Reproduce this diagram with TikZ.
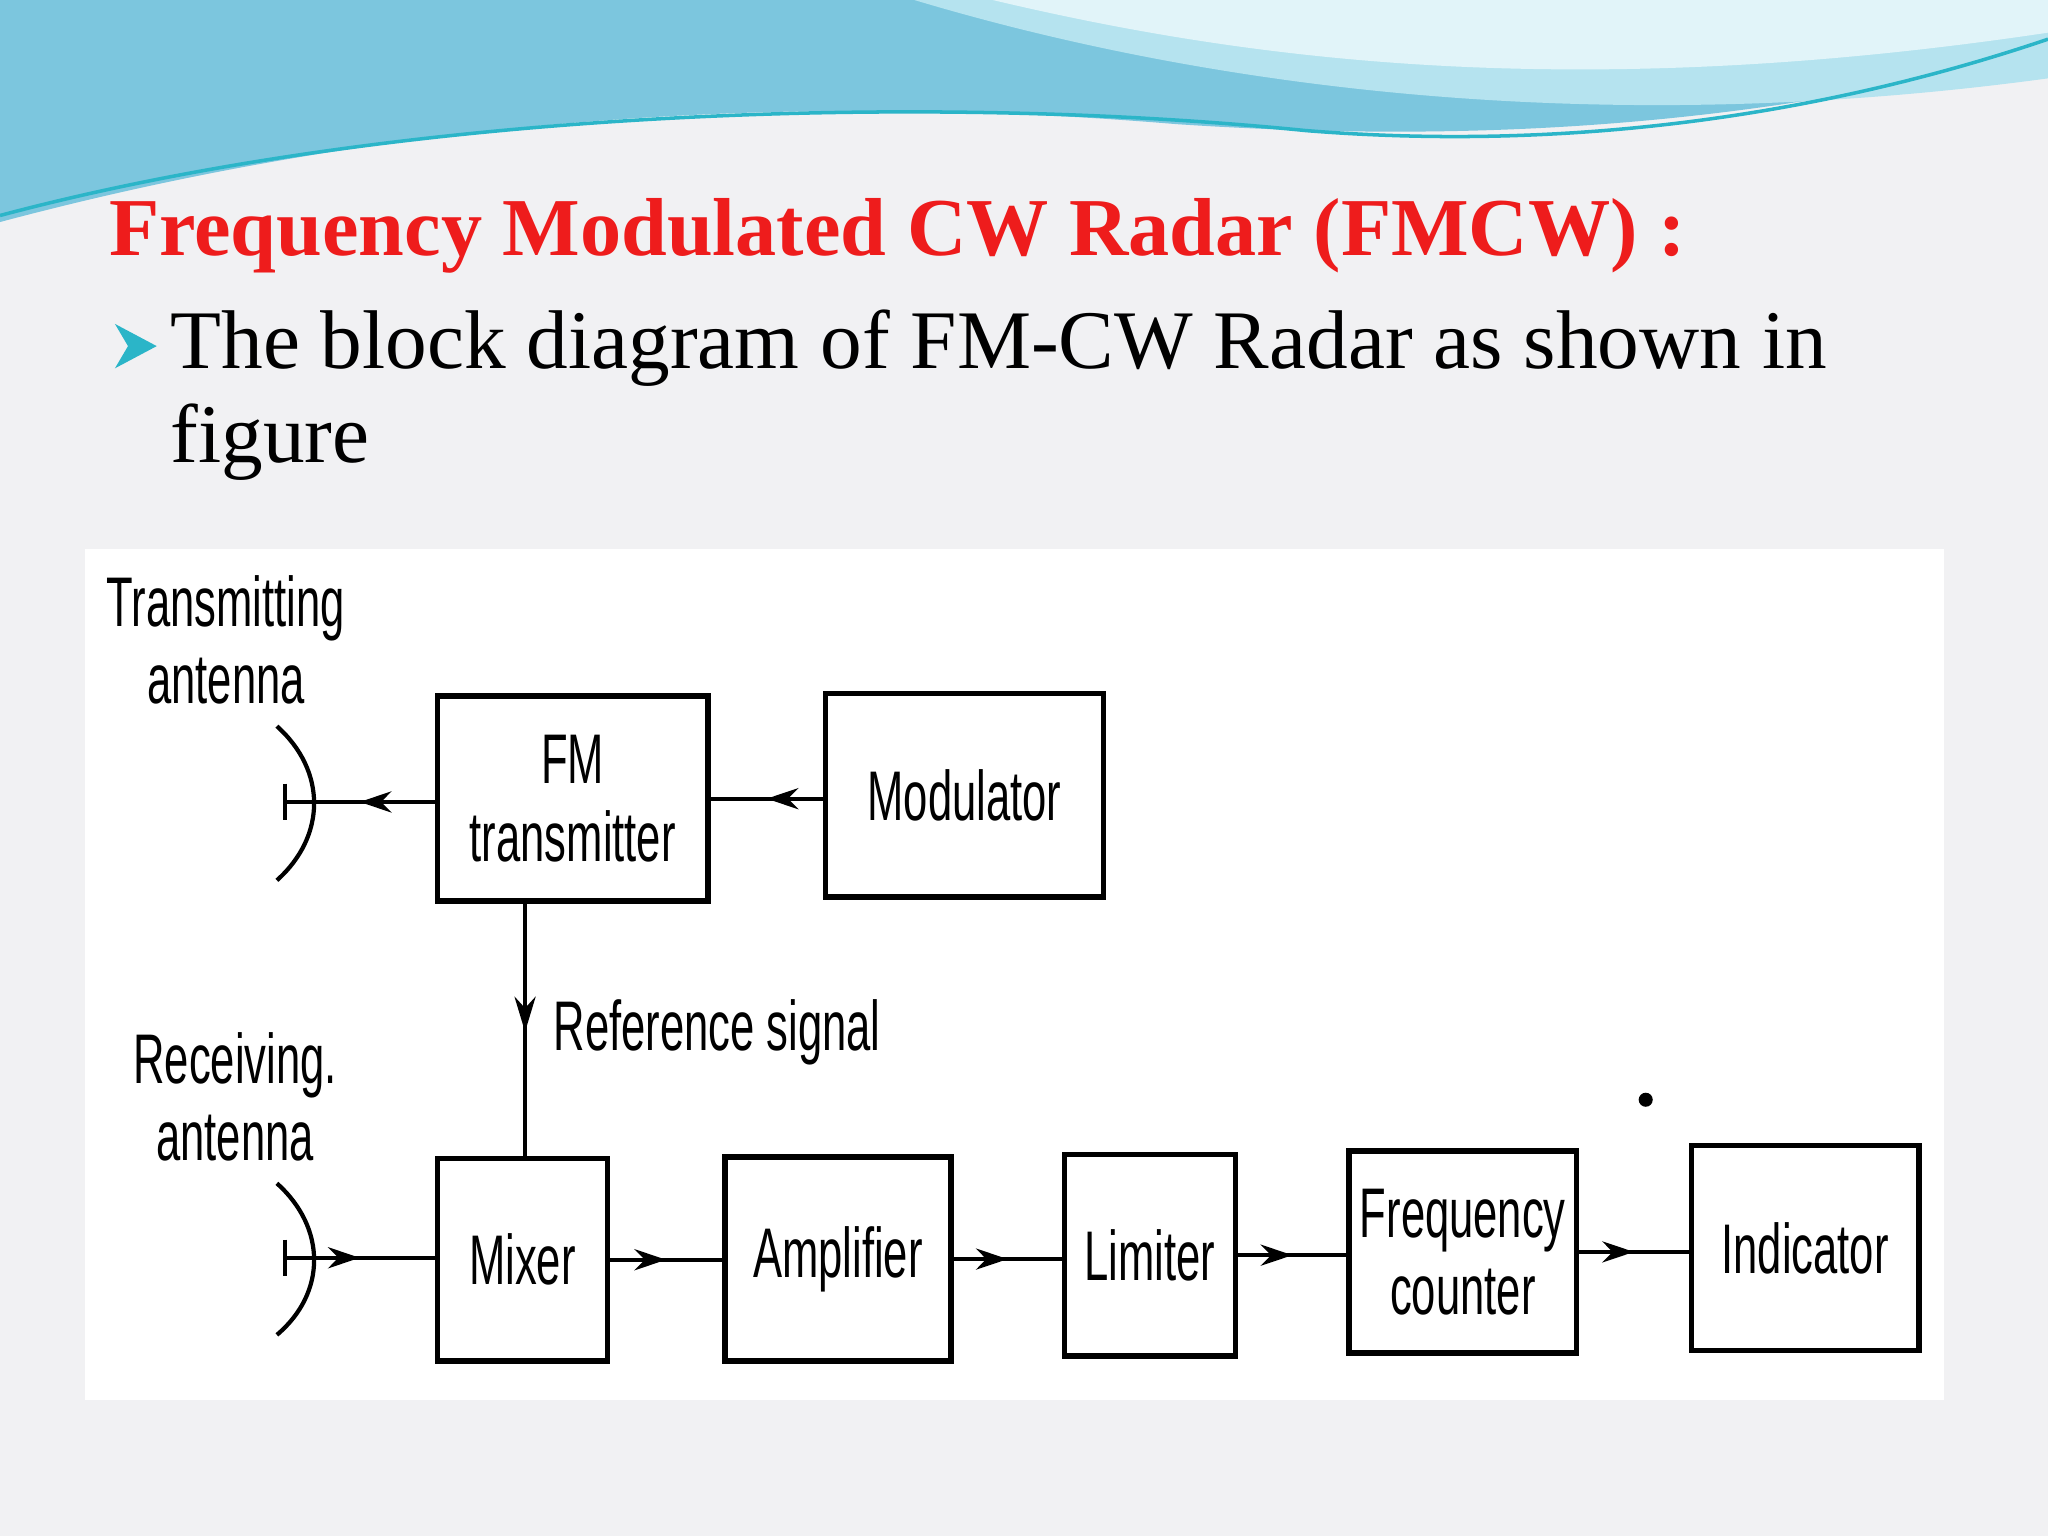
\documentclass[tikz,border=0pt]{standalone}
\usepackage{fontspec}
\setmainfont{Liberation Serif}
\newfontfamily\dsans{Liberation Sans}
\usetikzlibrary{arrows.meta,decorations.markings}
\definecolor{bg}{HTML}{F1F1F3}
\definecolor{wave1}{HTML}{7CC6DE}
\definecolor{wave2}{HTML}{B5E3EF}
\definecolor{tred}{HTML}{EE1C1C}
\definecolor{teal}{HTML}{2BB5C8}
\tikzset{
 blk/.style={draw, line width=1.6pt, inner sep=0pt},
 lab/.style={font=\dsans\fontsize{20}{22}\selectfont, xscale=0.62, align=center},
 ln/.style={line width=1.2pt},
 marr/.style={decoration={markings,mark=at position 0.5 with {\arrow{Stealth[length=9pt,width=6pt]}}},postaction={decorate}},
}
\begin{document}
\begin{tikzpicture}[x=0.01306cm,y=-0.01306cm]
\useasboundingbox (0,0) rectangle (1568,1176);
\fill[bg] (0,0) rectangle (1568,1176);
% top waves
\fill[wave1] (0,0) -- (0,170) .. controls (300,90) and (600,70) .. (900,95) .. controls (1200,115) and (1400,80) .. (1568,40) -- (1568,0) -- cycle;
\fill[wave2] (700,0) .. controls (900,60) and (1200,110) .. (1568,60) -- (1568,0) -- cycle;
\fill[white!60!wave2] (760,0) .. controls (950,45) and (1200,80) .. (1568,25) -- (1568,0) -- cycle;
\draw[teal, line width=1pt] (0,165) .. controls (300,85) and (700,70) .. (1000,100) .. controls (1250,120) and (1450,70) .. (1568,30);
% title
\node[anchor=base west, text=tred, font=\bfseries\fontsize{23.4}{28}\selectfont, inner sep=0] (title) at (83,196) {Frequency Modulated CW Radar (FMCW) :};
\fill[teal] (88,248) -- (120,265) -- (88,282) -- (98,265) -- cycle;
\node[anchor=base west, font=\fontsize{23.7}{28}\selectfont, inner sep=0] (l1) at (130,282) {The block diagram of FM-CW Radar as shown in};
\node[anchor=base west, font=\fontsize{23.7}{28}\selectfont, inner sep=0] (l2) at (130,354) {figure};
% diagram
\fill[white] (65,420) rectangle (1488,1072);
\node[blk, minimum width=207*0.01306cm, minimum height=157*0.01306cm] (fm) at (438.5,611.5) {};
\node[lab] at (fm) {FM\\transmitter};
\node[blk, minimum width=213*0.01306cm, minimum height=156*0.01306cm] (mod) at (738.5,609) {};
\node[lab] at (mod) {Modulator};
\node[blk, minimum width=130*0.01306cm, minimum height=155*0.01306cm] (mix) at (400,964.5) {};
\node[lab] at (mix) {Mixer};
\node[blk, minimum width=173*0.01306cm, minimum height=156*0.01306cm] (amp) at (641.5,964) {};
\node[lab] at (amp) {Amplifier};
\node[blk, minimum width=131*0.01306cm, minimum height=154*0.01306cm] (lim) at (880.5,961) {};
\node[lab] at (lim) {Limiter};
\node[blk, minimum width=174*0.01306cm, minimum height=155*0.01306cm] (fc) at (1120,958.5) {};
\node[lab] at (fc) {Frequency\\counter};
\node[blk, minimum width=174*0.01306cm, minimum height=157*0.01306cm] (ind) at (1382,955.5) {};
\node[lab] at (ind) {Indicator};
% antennas
\coordinate (ta) at (218,614);
\coordinate (ra) at (218,963);
\draw[ln] (212,556) .. controls (250,590) and (250,640) .. (212,674);
\draw[ln] (212,906) .. controls (250,940) and (250,990) .. (212,1022);
\draw[ln] (218,600) -- (218,628);
\draw[ln] (218,949) -- (218,977);
\node[lab, anchor=center] (tl) at (173,490) {Transmitting\\antenna};
\node[lab, anchor=center] (rl) at (180,840) {Receiving.\\antenna};
% connectors
\draw[ln, marr] (fm.west|-ta) -- (ta);
\draw[ln, marr] (mod.west|-fm) -- (fm.east);
\draw[ln, marr] (ra) -- (mix.west|-ra);
\draw[ln, marr] (mix.east) -- (amp.west|-mix);
\draw[ln, marr] (amp.east) -- (lim.west|-amp);
\draw[ln, marr] (lim.east) -- (fc.west|-lim);
\draw[ln, marr] (fc.east) -- (ind.west|-fc);
\coordinate (rt) at (402,690);
\coordinate (rb) at (402,887);
\draw[ln] (rt) -- (rb);
\draw[-{Stealth[length=10pt,width=6pt]}, ln] (402,740) -- (402,790);
\node[lab, anchor=west] (rs) at (418,790) {Reference signal};
\fill (1260,842) circle (2pt);
\end{tikzpicture}
\end{document}
